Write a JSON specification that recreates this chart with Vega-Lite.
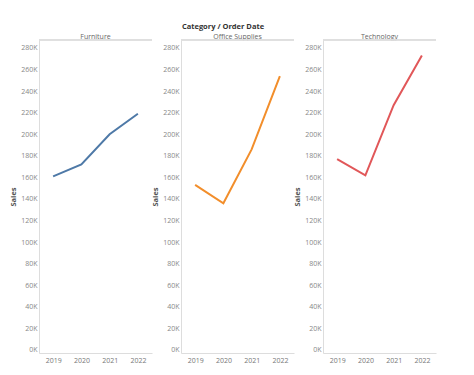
{
  "$schema": "https://vega.github.io/schema/vega-lite/v6.json",
  "padding": {"left": 9, "top": 22, "right": 30, "bottom": 5},
  "background": "white",
  "config": {
    "font": "Open Sans",
    "view": {"stroke": null}
  },
  "data": {
    "values": [
      {"Category": "Furniture", "Year": "2019", "Sales": 161000},
      {"Category": "Furniture", "Year": "2020", "Sales": 172000},
      {"Category": "Furniture", "Year": "2021", "Sales": 200000},
      {"Category": "Furniture", "Year": "2022", "Sales": 219000},
      {"Category": "Office Supplies", "Year": "2019", "Sales": 153000},
      {"Category": "Office Supplies", "Year": "2020", "Sales": 136000},
      {"Category": "Office Supplies", "Year": "2021", "Sales": 186000},
      {"Category": "Office Supplies", "Year": "2022", "Sales": 254000},
      {"Category": "Technology", "Year": "2019", "Sales": 177000},
      {"Category": "Technology", "Year": "2020", "Sales": 162000},
      {"Category": "Technology", "Year": "2021", "Sales": 227000},
      {"Category": "Technology", "Year": "2022", "Sales": 273000}
    ]
  },
  "facet": {
    "column": {
      "field": "Category",
      "type": "nominal",
      "title": "Category / Order Date",
      "header": {
        "titleFontSize": 7.5,
        "titleFontWeight": "bold",
        "titleColor": "#333333",
        "titlePadding": -7,
        "labelFontSize": 7,
        "labelColor": "#666666",
        "labelPadding": 0
      }
    }
  },
  "spacing": 29,
  "bounds": "flush",
  "resolve": {"axis": {"y": "independent", "x": "independent"}},
  "spec": {
    "width": 113,
    "height": 313,
    "layer": [
      {
        "mark": {"type": "rule", "color": "#dddddd", "strokeWidth": 1},
        "encoding": {"y": {"datum": 287400, "type": "quantitative"}}
      },
      {
        "mark": {"type": "line", "strokeWidth": 2},
        "encoding": {
          "x": {
            "field": "Year",
            "type": "ordinal",
            "scale": {"padding": 0.5},
            "axis": {
              "title": null,
              "labelAngle": 0,
              "labelFontSize": 7,
              "labelColor": "#777777",
              "ticks": false,
              "labelPadding": 3,
              "domainColor": "#dddddd",
              "grid": false
            }
          },
          "y": {
            "field": "Sales",
            "type": "quantitative",
            "scale": {"domain": [-2800, 287400], "nice": false, "zero": false},
            "axis": {
              "title": "Sales",
              "titleFontSize": 7.5,
              "titleFontWeight": "bold",
              "titleColor": "#555555",
              "titlePadding": 3,
              "values": [0, 20000, 40000, 60000, 80000, 100000, 120000, 140000, 160000, 180000, 200000, 220000, 240000, 260000, 280000],
              "tickCount": 30,
              "labelExpr": "(datum.value / 1000) + 'K'",
              "labelOverlap": false,
              "labelFontSize": 7,
              "labelColor": "#888888",
              "labelPadding": 2,
              "ticks": false,
              "domainColor": "#dddddd",
              "gridColor": "#f0f0f0"
            }
          },
          "color": {
            "field": "Category",
            "type": "nominal",
            "scale": {"domain": ["Furniture", "Office Supplies", "Technology"], "range": ["#4e79a7", "#f28e2b", "#e15759"]},
            "legend": null
          }
        }
      }
    ]
  }
}
